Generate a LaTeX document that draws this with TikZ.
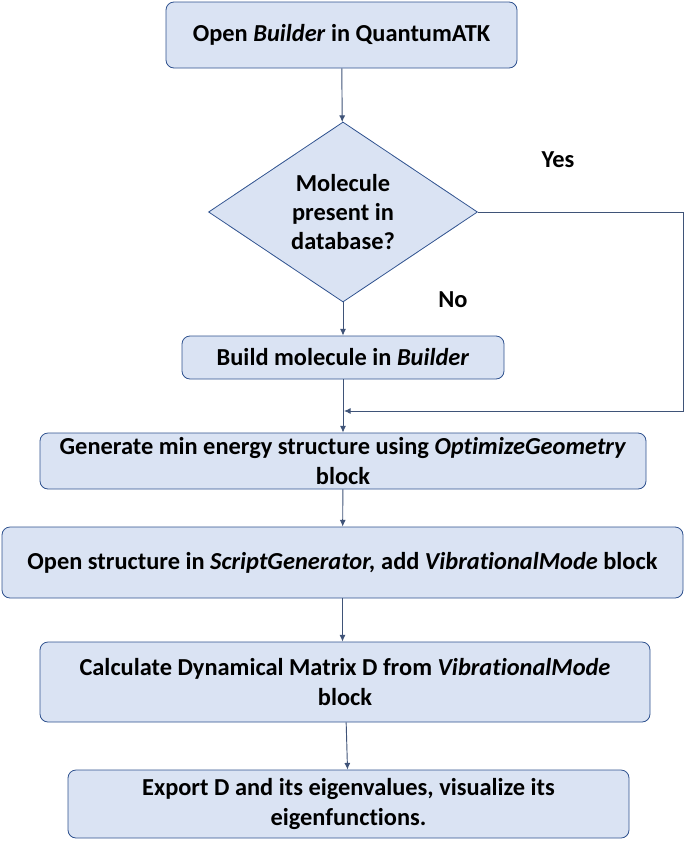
\documentclass[tikz,border=0pt]{standalone}
\usepackage{fontspec}
\setmainfont[Ligatures={NoCommon}]{Carlito}
\usetikzlibrary{arrows.meta}
\usetikzlibrary{shapes.geometric}
\definecolor{boxfill}{HTML}{DAE3F3}
\definecolor{boxline}{HTML}{2F528F}
\definecolor{flowline}{HTML}{3F5378}
\tikzset{
      process/.style={draw=boxline, fill=boxfill, line width=0.6, rounded corners=6pt,
            align=center, font=\fontsize{18.3}{22}\selectfont\bfseries, inner sep=2pt},
      decision/.style={diamond, draw=boxline, fill=boxfill, line width=0.6, aspect=1.49,
            minimum width=201.75pt, minimum height=135pt, inner sep=0pt,
            align=center, font=\fontsize{18.3}{22}\selectfont\bfseries},
      flow/.style={draw=flowline, line width=0.7, -{Latex[length=5pt,width=4.5pt]}},
      answer/.style={font=\fontsize{18.3}{22}\selectfont\bfseries},
}
\begin{document}
\begin{tikzpicture}[x=0.75pt, y=-0.75pt]
        \useasboundingbox (0,0) rectangle (685,843);

        % Draw the steps
        \node[process, minimum width=263.25pt, minimum height=49.5pt] (open) at (341.5,35) {Open \textit{Builder} in QuantumATK};
        \node[decision] (dbase) at (343,212) {Molecule\\present in\\database?};
        \node[process, minimum width=241.5pt, minimum height=32.25pt] (build) at (343,357.5) {Build molecule in \textit{Builder}};
        \node[process, minimum width=454.5pt, minimum height=42pt] (optim) at (343,461) {Generate min energy structure using \textit{OptimizeGeometry}\\block};
        \node[process, minimum width=510.75pt, minimum height=53.25pt] (script) at (342.5,562.5) {Open structure in \textit{ScriptGenerator,} add \textit{VibrationalMode} block};
        \node[process, minimum width=457.5pt, minimum height=60pt] (dynmat) at (345,682) {Calculate Dynamical Matrix D from \textit{VibrationalMode}\\block};
        \node[process, minimum width=420.75pt, minimum height=51pt] (export) at (348.5,804) {Export D and its eigenvalues, visualize its\\eigenfunctions.};

        \node[answer] (lblyes) at (558,160) {Yes};
        \node[answer] (lblno) at (453,300) {No};

        \coordinate (loopturn) at (683,411);
        \coordinate (loopend) at (344,411);

        % Draw the arrows
        \draw[flow] (open) -- (dbase);
        \draw[flow] (dbase) -- (build);
        \draw[flow] (build) -- (optim);
        \draw[flow] (dbase.east) -| (loopturn) -- (loopend);
        \draw[flow] (optim) -- (script);
        \draw[flow] (script.south) -- (script.south |- dynmat.north);
        \draw[flow] (dynmat) -- (export);

    \end{tikzpicture}
\end{document}
